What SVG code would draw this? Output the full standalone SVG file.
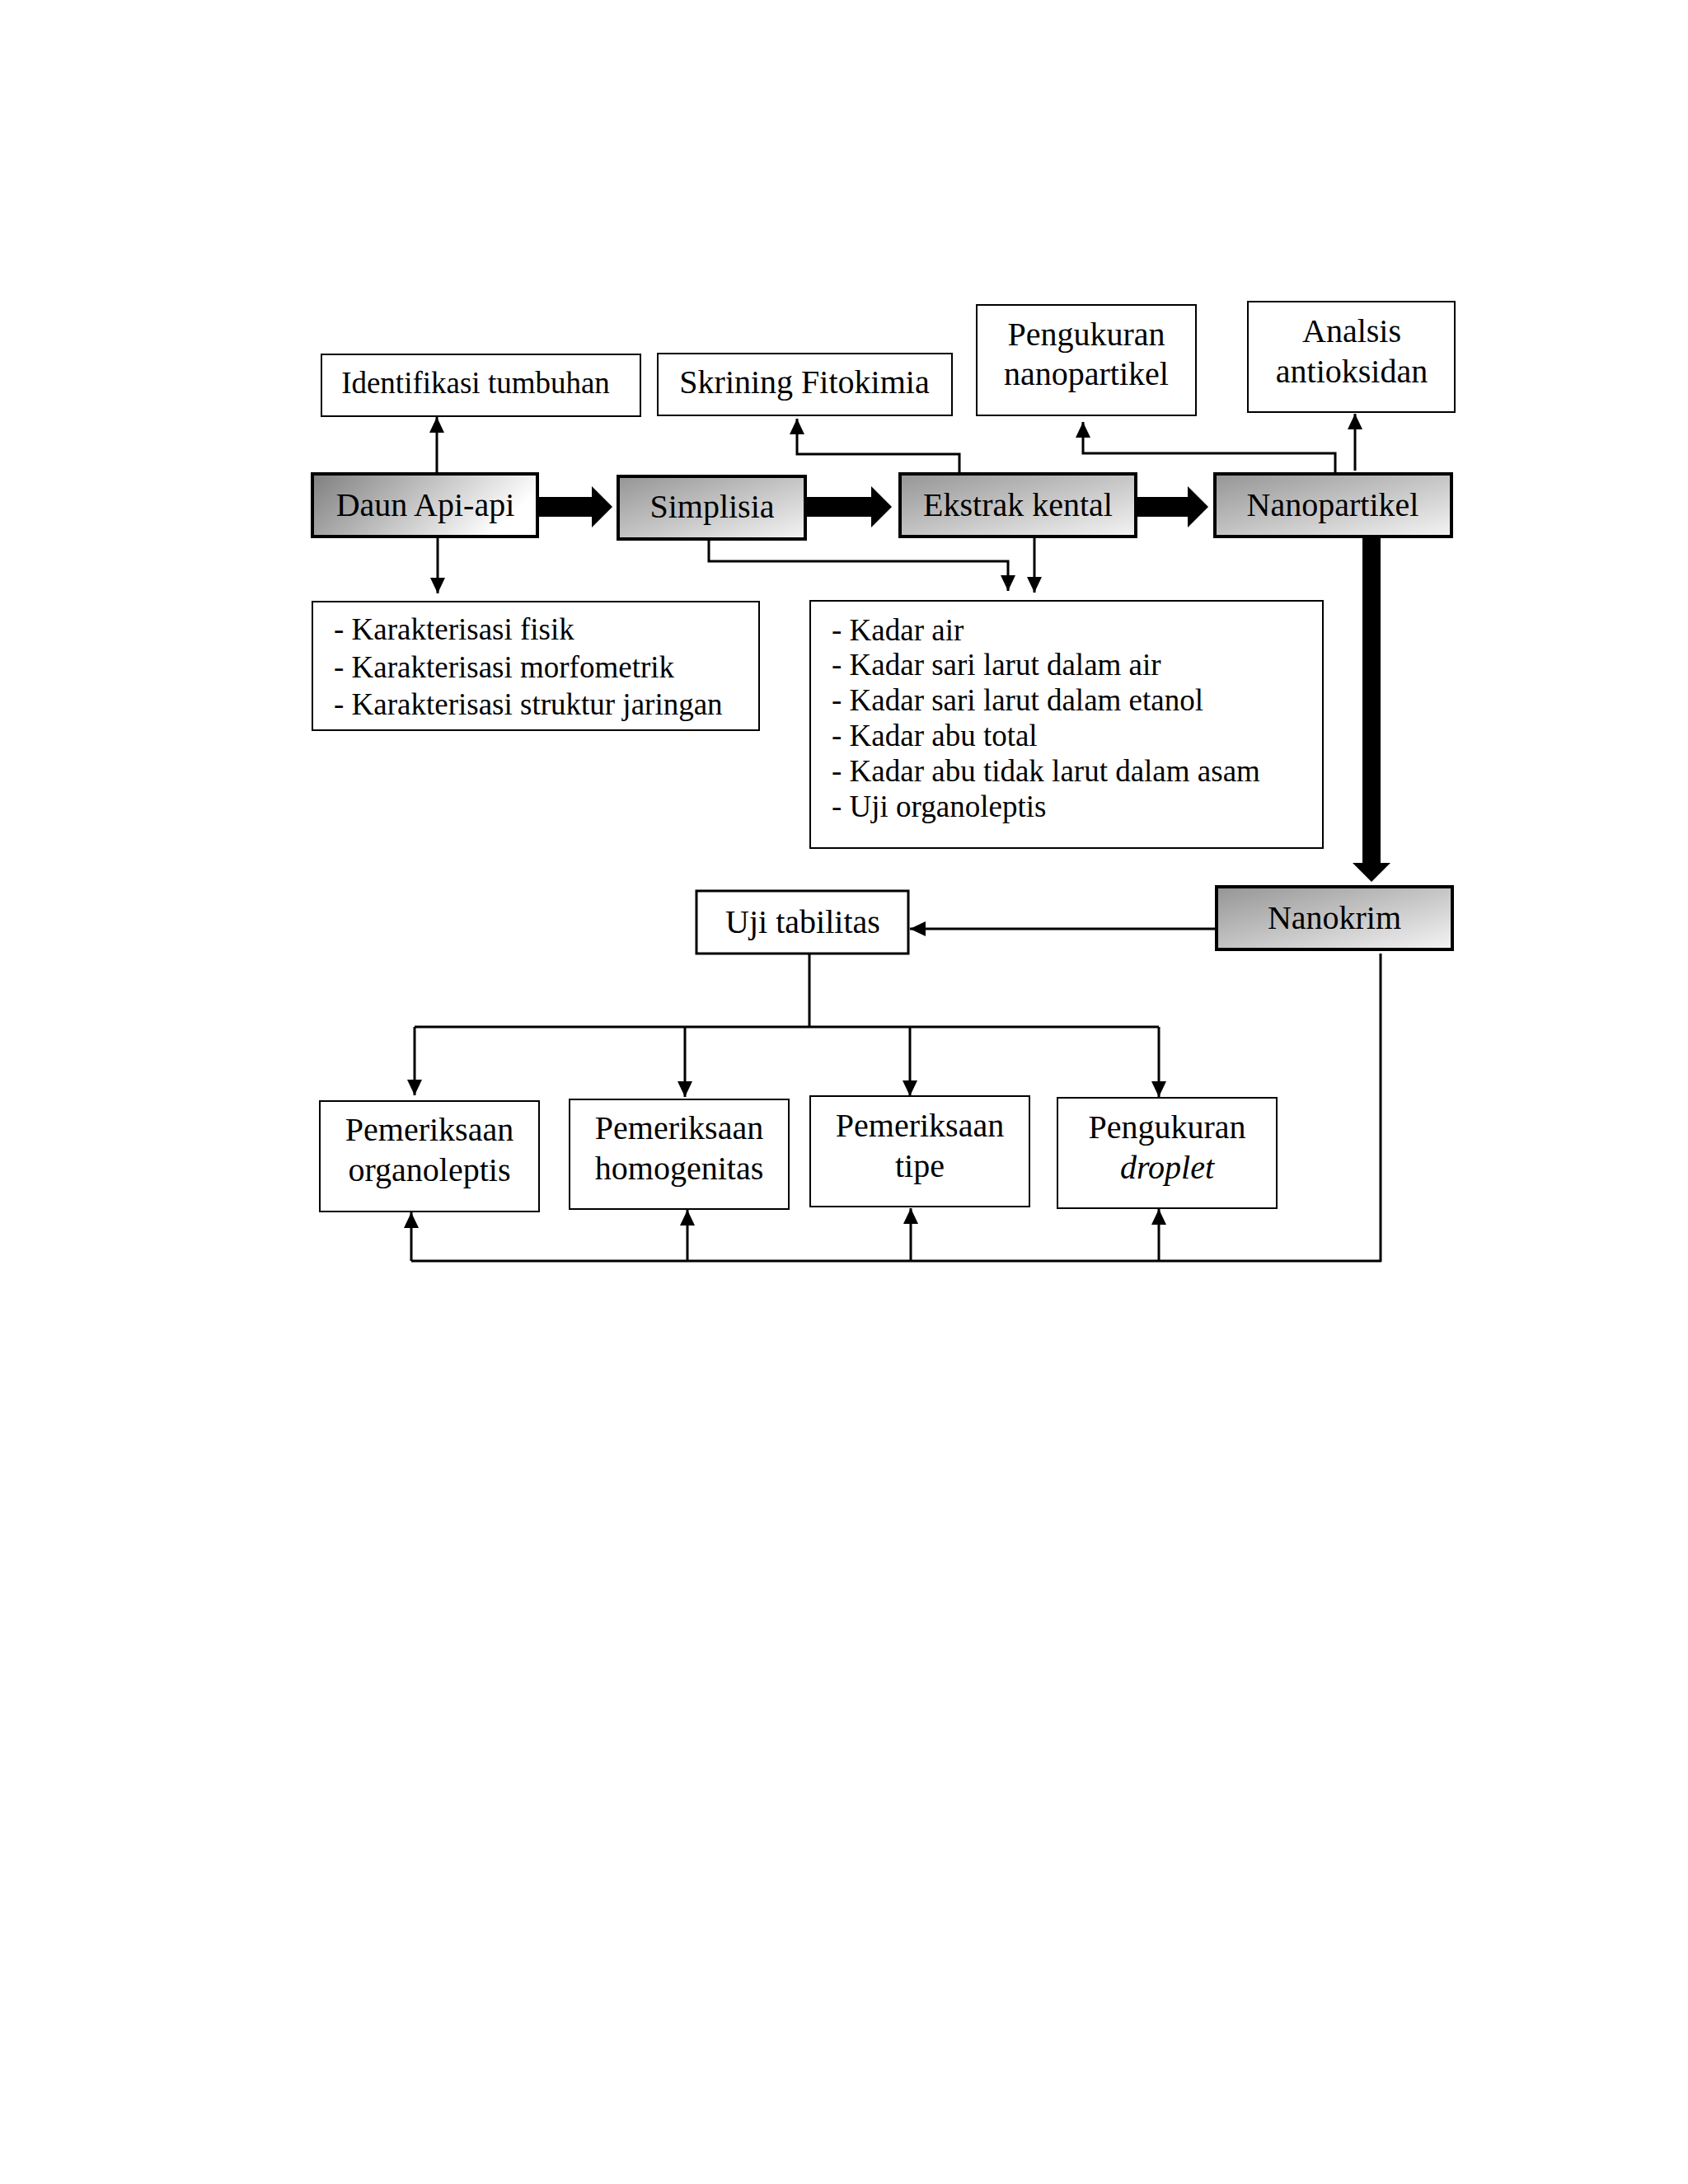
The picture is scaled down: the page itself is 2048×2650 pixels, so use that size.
<svg xmlns="http://www.w3.org/2000/svg" width="2048" height="2650" viewBox="0 0 2048 2650">
<defs>
<linearGradient id="gDaun" x1="0" y1="0" x2="1" y2="0.3">
<stop offset="0" stop-color="#7f7f7f"/>
<stop offset="1" stop-color="#ffffff"/>
</linearGradient>
<linearGradient id="gBox" x1="0" y1="0" x2="1" y2="1">
<stop offset="0" stop-color="#959595"/>
<stop offset="1" stop-color="#f4f4f4"/>
</linearGradient>
<marker id="ah" viewBox="0 0 19 18" refX="19" refY="9" markerWidth="19" markerHeight="18" orient="auto" markerUnits="userSpaceOnUse">
<path d="M0,0 L19,9 L0,18 z" fill="#000"/>
</marker>
<style>
.plain{fill:#fff;stroke:#000;stroke-width:2}
.shade{stroke:#000;stroke-width:4}
.t40{font-family:"Liberation Serif","Times New Roman",serif;font-size:40px;fill:#000;text-anchor:middle}
.t37{font-family:"Liberation Serif","Times New Roman",serif;font-size:37px;fill:#000}
.t37m{font-family:"Liberation Serif","Times New Roman",serif;font-size:37px;fill:#000;text-anchor:middle}
.ln{fill:none;stroke:#000;stroke-width:3}
.ar{fill:none;stroke:#000;stroke-width:3;marker-end:url(#ah)}
.big{fill:#000}
</style>
</defs>
<rect width="2048" height="2650" fill="#fff"/>

<g id="connectors">
<!-- thick arrows -->
<path class="big" d="M652,603 L718,603 L718,590 L743,615 L718,640 L718,627 L652,627 z"/>
<path class="big" d="M977,603 L1057,603 L1057,590 L1082,615 L1057,640 L1057,627 L977,627 z"/>
<path class="big" d="M1378,603 L1441,603 L1441,590 L1466,615 L1441,640 L1441,627 L1378,627 z"/>
<path class="big" d="M1653,652 L1675,652 L1675,1047 L1687,1047 L1664,1070 L1641,1047 L1653,1047 z"/>
<!-- thin arrows top -->
<path class="ar" d="M530,574 L530,506"/>
<path class="ar" d="M531,651 L531,720"/>
<path class="ar" d="M1164,575 L1164,551 L967,551 L967,508"/>
<path class="ar" d="M1620,575 L1620,550 L1314,550 L1314,512"/>
<path class="ar" d="M1644,571 L1644,502"/>
<path class="ar" d="M860,654 L860,681 L1223,681 L1223,717"/>
<path class="ar" d="M1255,651 L1255,719"/>
<!-- bottom -->
<path class="ar" d="M1476,1127 L1104,1127"/>
<path class="ln" d="M982,1157 L982,1246"/>
<path class="ln" d="M503,1246 L1406,1246"/>
<path class="ar" d="M503,1246 L503,1329"/>
<path class="ar" d="M831,1246 L831,1331"/>
<path class="ar" d="M1104,1246 L1104,1330"/>
<path class="ar" d="M1406,1246 L1406,1331"/>
<path class="ln" d="M1675,1157 L1675,1531 M499,1530 L1676,1530"/>
<path class="ar" d="M499,1530 L499,1471"/>
<path class="ar" d="M834,1530 L834,1468"/>
<path class="ar" d="M1105,1530 L1105,1466"/>
<path class="ar" d="M1406,1530 L1406,1467"/>
</g>

<g id="identifikasi">
<rect class="plain" x="390" y="430" width="387" height="75"/>
<text class="t37m" x="577" y="477">Identifikasi tumbuhan</text>
</g>
<g id="skrining">
<rect class="plain" x="798" y="429" width="357" height="75"/>
<text class="t40" x="976" y="477">Skrining Fitokimia</text>
</g>
<g id="pengukuran-nano">
<rect class="plain" x="1185" y="370" width="266" height="134"/>
<text class="t40" x="1318" y="419">Pengukuran</text>
<text class="t40" x="1318" y="467">nanopartikel</text>
</g>
<g id="analsis">
<rect class="plain" x="1514" y="366" width="251" height="134"/>
<text class="t40" x="1640" y="415">Analsis</text>
<text class="t40" x="1640" y="464">antioksidan</text>
</g>

<g id="daun">
<rect class="shade" x="379" y="575" width="273" height="76" fill="url(#gDaun)"/>
<text class="t40" x="516" y="626">Daun Api-api</text>
</g>
<g id="simplisia">
<rect class="shade" x="750" y="578" width="227" height="76" fill="url(#gBox)"/>
<text class="t40" x="864" y="628">Simplisia</text>
</g>
<g id="ekstrak">
<rect class="shade" x="1092" y="575" width="286" height="76" fill="url(#gBox)"/>
<text class="t40" x="1235" y="626">Ekstrak kental</text>
</g>
<g id="nanopartikel">
<rect class="shade" x="1474" y="575" width="287" height="76" fill="url(#gBox)"/>
<text class="t40" x="1617" y="626">Nanopartikel</text>
</g>

<g id="karakterisasi">
<rect class="plain" x="379" y="730" width="542" height="156"/>
<text class="t37" x="405" y="776">- Karakterisasi fisik</text>
<text class="t37" x="405" y="822">- Karakterisasi morfometrik</text>
<text class="t37" x="405" y="867">- Karakterisasi struktur jaringan</text>
</g>

<g id="kadar">
<rect class="plain" x="983" y="729" width="622" height="300"/>
<text class="t37" x="1009" y="777">- Kadar air</text>
<text class="t37" x="1009" y="819">- Kadar sari larut dalam air</text>
<text class="t37" x="1009" y="862">- Kadar sari larut dalam etanol</text>
<text class="t37" x="1009" y="905">- Kadar abu total</text>
<text class="t37" x="1009" y="948">- Kadar abu tidak larut dalam asam</text>
<text class="t37" x="1009" y="991">- Uji organoleptis</text>
</g>

<g id="nanokrim">
<rect class="shade" x="1476" y="1076" width="286" height="76" fill="url(#gBox)"/>
<text class="t40" x="1619" y="1127">Nanokrim</text>
</g>
<g id="uji">
<rect fill="#fff" stroke="#000" stroke-width="3" x="845" y="1081" width="257" height="76"/>
<text class="t40" x="974" y="1132">Uji tabilitas</text>
</g>

<g id="organoleptis">
<rect class="plain" x="388" y="1336" width="266" height="134"/>
<text class="t40" x="521" y="1384">Pemeriksaan</text>
<text class="t40" x="521" y="1433">organoleptis</text>
</g>
<g id="homogenitas">
<rect class="plain" x="691" y="1334" width="266" height="133"/>
<text class="t40" x="824" y="1382">Pemeriksaan</text>
<text class="t40" x="824" y="1431">homogenitas</text>
</g>
<g id="tipe">
<rect class="plain" x="983" y="1330" width="266" height="134"/>
<text class="t40" x="1116" y="1379">Pemeriksaan</text>
<text class="t40" x="1116" y="1428">tipe</text>
</g>
<g id="droplet">
<rect class="plain" x="1283" y="1332" width="266" height="134"/>
<text class="t40" x="1416" y="1381">Pengukuran</text>
<text class="t40" x="1416" y="1430" font-style="italic">droplet</text>
</g>
</svg>
